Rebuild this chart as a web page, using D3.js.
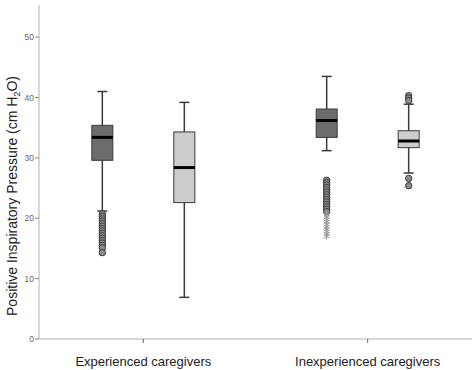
<!DOCTYPE html>
<html>
<head>
<meta charset="utf-8">
<script src="https://cdn.jsdelivr.net/npm/d3@7"></script>
<style>
    body { margin: 0; background: #fff; }
    text { font-family: "Liberation Sans", Arial, sans-serif; }
</style>
</head>
<body>
<div class="canvas"></div>
<script>
// data
const groups = ["Experienced caregivers", "Inexperienced caregivers"];
const series = ["dark", "light"];
const yTicks = [0, 10, 20, 30, 40, 50];

// [whiskerLow, q1, median, q3, whiskerHigh] per group, per series
const darkStats = [
    [21.2, 29.6, 33.4, 35.4, 41.0],
    [31.2, 33.4, 36.2, 38.1, 43.5]
];
const lightStats = [
    [6.9, 22.6, 28.4, 34.3, 39.2],
    [27.5, 31.7, 32.8, 34.5, 38.9]
];

const darkOutliers = [
    [20.7, 20.3, 19.9, 19.5, 19.1, 18.7, 18.3, 17.9, 17.5, 17.1, 16.7, 16.3, 15.9, 15.5, 15.1, 14.3],
    [26.3, 25.9, 25.5, 25.1, 24.7, 24.3, 23.9, 23.5, 23.1, 22.7, 22.3, 21.9, 21.5, 21.1]
];
const darkExtremes = [
    [],
    [20.6, 20.2, 19.8, 19.4, 19.0, 18.6, 18.2, 17.8, 17.4, 17.0]
];
const lightOutliers = [
    [],
    [40.3, 39.9, 39.5, 26.6, 25.4]
];

let margin = { left: 39, right: 2, top: 7, bottom: 31 };
let width = 474, height = 370;

const svg = d3
    .select(".canvas")
    .append("svg")
    .attr("width", width)
    .attr("height", height);

const x = d3.scalePoint()
    .domain(groups)
    .range([margin.left, width - margin.right])
    .padding(0.465);

const xSub = d3.scalePoint().domain(series).range([-41, 41]);

const y = d3.scaleLinear().domain([0, 55]).range([height - margin.bottom, margin.top]);

// axes
const axisColor = "#b0b0b0";

svg.append("line")
    .attr("x1", margin.left).attr("x2", margin.left)
    .attr("y1", y(55) - 2).attr("y2", y(0))
    .attr("stroke", axisColor);

svg.append("line")
    .attr("x1", margin.left).attr("x2", width - margin.right)
    .attr("y1", y(0)).attr("y2", y(0))
    .attr("stroke", axisColor);

const yTickG = svg.selectAll(".ytick").data(yTicks).enter().append("g")
    .attr("class", "ytick")
    .attr("transform", (d) => `translate(${margin.left},${y(d)})`);
yTickG.append("line").attr("x1", -4).attr("x2", 0).attr("stroke", "#888");
yTickG.append("text")
    .attr("x", -5).attr("dy", "0.35em")
    .attr("text-anchor", "end")
    .attr("font-size", 8.5)
    .attr("fill", "#666")
    .text((d) => d);

const xTickG = svg.selectAll(".xtick").data(groups).enter().append("g")
    .attr("class", "xtick")
    .attr("transform", (d) => `translate(${x(d)},${y(0)})`);
xTickG.append("line").attr("y1", 0).attr("y2", 4).attr("stroke", "#666");
xTickG.append("text")
    .attr("y", 27)
    .attr("text-anchor", "middle")
    .attr("font-size", 13)
    .attr("fill", "#222")
    .text((d) => d);

// y label
const yLabel = svg.append("text")
    .attr("transform", `translate(17,${196}) rotate(-90)`)
    .attr("text-anchor", "middle")
    .attr("font-size", 14)
    .attr("fill", "#222");
yLabel.append("tspan").text("Positive Inspiratory Pressure (cm H");
yLabel.append("tspan").attr("font-size", 9).attr("dy", 3).text("2");
yLabel.append("tspan").attr("dy", -3).text("O)");

// boxes
const boxW = 21, capW = 10;
const fills = { dark: "#6c6c6c", light: "#cdcdcd" };
const stroke = "#3a3a3a";

const boxes = [];
groups.forEach((g, i) => {
    boxes.push({ group: g, s: "dark", stats: darkStats[i], out: darkOutliers[i], ext: darkExtremes[i] });
    boxes.push({ group: g, s: "light", stats: lightStats[i], out: lightOutliers[i], ext: [] });
});

const boxG = svg.selectAll(".box").data(boxes).enter().append("g")
    .attr("class", "box")
    .attr("transform", (d) => `translate(${x(d.group) + xSub(d.s)},0)`);

// whiskers
boxG.append("line")
    .attr("y1", (d) => y(d.stats[0])).attr("y2", (d) => y(d.stats[4]))
    .attr("stroke", stroke).attr("stroke-width", 1.5);
boxG.selectAll(".cap").data((d) => [d.stats[0], d.stats[4]]).enter().append("line")
    .attr("x1", -capW / 2).attr("x2", capW / 2)
    .attr("y1", (v) => y(v)).attr("y2", (v) => y(v))
    .attr("stroke", stroke).attr("stroke-width", 1.5);

boxG.append("rect")
    .attr("x", -boxW / 2).attr("width", boxW)
    .attr("y", (d) => y(d.stats[3]))
    .attr("height", (d) => y(d.stats[1]) - y(d.stats[3]))
    .attr("fill", (d) => fills[d.s])
    .attr("stroke", stroke).attr("stroke-width", 1);

boxG.append("line")
    .attr("x1", -boxW / 2).attr("x2", boxW / 2)
    .attr("y1", (d) => y(d.stats[2])).attr("y2", (d) => y(d.stats[2]))
    .attr("stroke", "#000").attr("stroke-width", 3);

// outliers
boxG.selectAll(".out").data((d) => d.out).enter().append("circle")
    .attr("cx", 0).attr("cy", (v) => y(v)).attr("r", 3.2)
    .attr("fill", "#8c8c8c").attr("stroke", "#3a3a3a").attr("stroke-width", 1);

// extremes (asterisks)
boxG.selectAll(".ext").data((d) => d.ext).enter().append("path")
    .attr("transform", (v) => `translate(0,${y(v)})`)
    .attr("d", d3.symbol(d3.symbolAsterisk, 30))
    .attr("fill", "none").attr("stroke", "#9a9a9a").attr("stroke-width", 1);
</script>
</body>
</html>
